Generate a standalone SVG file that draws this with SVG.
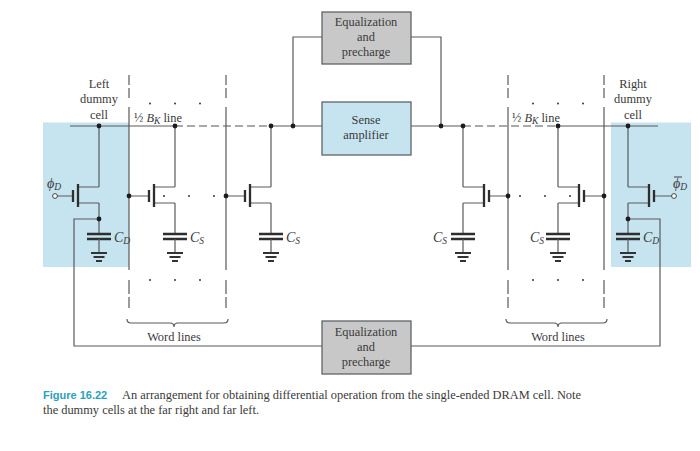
<svg xmlns="http://www.w3.org/2000/svg" width="700" height="451" viewBox="0 0 700 451">
<style>
text{font-family:"Liberation Serif","Times New Roman",serif;font-size:12.4px;fill:#3a3a3a}
.m{text-anchor:middle}
.i{font-style:italic}
.c{font-style:italic;font-size:14px}
.s{font-size:9.5px;font-style:italic}
.w{fill:none;stroke:#5a5a5a;stroke-width:1.2}
.wd{fill:none;stroke:#555;stroke-width:1;stroke-dasharray:8 4}
.b{fill:none;stroke:#2e2e2e;stroke-width:2.3}
.g{fill:none;stroke:#333;stroke-width:1.8}
.blk{fill:#1c1c1c}
.box{stroke:#5e6468;stroke-width:1.3}
.gray{fill:#c8c8c8}
.blue{fill:#c5e4ef}
.cap{font-family:"Liberation Sans",Arial,sans-serif;font-weight:bold;font-size:11px;fill:#2c9fc0}
.dot{fill:#222}
</style>
<defs>
<g id="tl"><path class="w" d="M-21 -9H0M-21 7H0"/><path class="b" d="M-21 -12V11M-26 -6V6"/></g>
<g id="tr"><path class="w" d="M0 -9H21M0 7H21"/><path class="b" d="M21 -12V11M26 -6V6"/></g>
<g id="cg"><path class="b" d="M-12 0H12M-12 5H12"/><path class="w" d="M0 5V19"/><path class="g" d="M-8 19H8M-5.5 23H5.5M-3 27H3"/></g>
<circle id="d" r="2.4" class="blk"/>
<circle id="e" r="0.9" class="dot"/>
<g id="ee"><use href="#e" x="0"/><use href="#e" x="25"/><use href="#e" x="50"/></g>
</defs>
<rect width="700" height="451" fill="#fff"/>
<rect id="left-shade" x="43" y="122.5" width="86" height="144.5" class="blue"/>
<rect id="right-shade" x="611" y="122.5" width="80" height="144.5" class="blue"/>
<g id="connectors">
<path class="w" d="M70 126H175M272 126H322M411 126H463M558 126H658"/>
<path class="wd" d="M175 126H272M463 126H558"/>
<path class="w" d="M293 126V37H322M411 37H441V126"/>
<path class="w" d="M99 219H74V346H322M411 346H660V219H628"/>
<path class="w" d="M99 126V187M99 203V234M175 126V187M175 203V234M271 126V187M271 203V234"/>
<path class="w" d="M463 126V187M463 203V234M558 126V187M558 203V234M628 126V187M628 203V234"/>
<path class="w" d="M57 196H74M129 196H149M226 196H245M488 196H508M584 196H604M654 196H672"/>
<path class="w" d="M129 75V85M129 88V98M129 107V270M129 280V294M129 297V308M226 75V85M226 88V98M226 107V270M226 280V294M226 297V308"/>
<path class="w" d="M508 75V85M508 88V98M508 107V270M508 280V294M508 297V308M604 75V85M604 88V98M604 107V270M604 280V294M604 297V308"/>
<path class="w" stroke-width="1" d="M127 319Q127 323 131 323H170Q174 323 174 327Q174 323 178 323H224Q228 323 228 319M506 319Q506 323 510 323H554Q558 323 558 327Q558 323 562 323H603Q607 323 607 319"/>
<use href="#d" x="99" y="126"/><use href="#d" x="175" y="126"/><use href="#d" x="271" y="126"/><use href="#d" x="293" y="126"/>
<use href="#d" x="441" y="126"/><use href="#d" x="463" y="126"/><use href="#d" x="558" y="126"/><use href="#d" x="628" y="126"/>
<use href="#d" x="129" y="196"/><use href="#d" x="226" y="196"/><use href="#d" x="508" y="196"/><use href="#d" x="604" y="196"/>
<use href="#d" x="99" y="219"/><use href="#d" x="628" y="219"/>
<use href="#ee" x="150" y="103.5"/><use href="#ee" x="164" y="196"/><use href="#ee" x="150" y="280"/>
<use href="#ee" x="533" y="103.5"/><use href="#ee" x="520" y="196"/><use href="#ee" x="533" y="280"/>
</g>
<g id="eq-top"><rect x="322" y="12" width="89" height="52" class="gray box"/><text class="m" x="366" y="26">Equalization</text><text class="m" x="366" y="41">and</text><text class="m" x="366" y="56">precharge</text></g>
<g id="sense"><rect x="322" y="102" width="89" height="53" class="blue box"/><text class="m" x="366" y="124">Sense</text><text class="m" x="366" y="139">amplifier</text></g>
<g id="eq-bottom"><rect x="322" y="321" width="89" height="53" class="gray box"/><text class="m" x="366" y="336">Equalization</text><text class="m" x="366" y="351">and</text><text class="m" x="366" y="366">precharge</text></g>
<g id="left-dummy">
<use href="#tl" x="99" y="196"/><use href="#cg" x="99" y="234"/>
<circle cx="55" cy="196" r="2.4" fill="#fff" stroke="#444"/>
<text class="m" x="99" y="88">Left</text><text class="m" x="99" y="103">dummy</text><text class="m" x="99" y="119">cell</text>
<text class="c" x="47" y="188">ϕ<tspan class="s" dy="2">D</tspan></text>
<text class="c" x="114" y="242">C<tspan class="s" dy="2">D</tspan></text>
</g>
<g id="left-cell-1"><use href="#tl" x="175" y="196"/><use href="#cg" x="175" y="234"/>
<text x="134" y="122">½ <tspan class="i">B</tspan><tspan class="s" dy="2">K</tspan><tspan dy="-2"> line</tspan></text>
<text class="c" x="190" y="242">C<tspan class="s" dy="2">S</tspan></text></g>
<g id="left-cell-2"><use href="#tl" x="271" y="196"/><use href="#cg" x="271" y="234"/><text class="c" x="286" y="242">C<tspan class="s" dy="2">S</tspan></text></g>
<g id="right-cell-1"><use href="#tr" x="463" y="196"/><use href="#cg" x="463" y="234"/><text class="c" x="433" y="242">C<tspan class="s" dy="2">S</tspan></text></g>
<g id="right-cell-2"><use href="#tr" x="558" y="196"/><use href="#cg" x="558" y="234"/>
<text x="512" y="122">½ <tspan class="i">B</tspan><tspan class="s" dy="2">K</tspan><tspan dy="-2"> line</tspan></text>
<text class="c" x="530" y="242">C<tspan class="s" dy="2">S</tspan></text></g>
<g id="right-dummy">
<use href="#tr" x="628" y="196"/><use href="#cg" x="628" y="234"/>
<circle cx="674" cy="196" r="2.4" fill="#fff" stroke="#444"/>
<text class="m" x="633" y="88">Right</text><text class="m" x="633" y="103">dummy</text><text class="m" x="633" y="119">cell</text>
<text class="c" x="673" y="188">ϕ<tspan class="s" dy="2">D</tspan></text>
<path class="w" stroke-width="1" d="M674 177H682"/>
<text class="c" x="643" y="242">C<tspan class="s" dy="2">D</tspan></text>
</g>
<text class="m" x="174" y="341">Word lines</text>
<text class="m" x="558" y="341">Word lines</text>
<g id="caption">
<text class="cap" x="43" y="399">Figure 16.22</text>
<text x="122" y="399" textLength="459">An arrangement for obtaining differential operation from the single-ended DRAM cell. Note</text>
<text x="43" y="414" textLength="216">the dummy cells at the far right and far left.</text>
</g>
</svg>
